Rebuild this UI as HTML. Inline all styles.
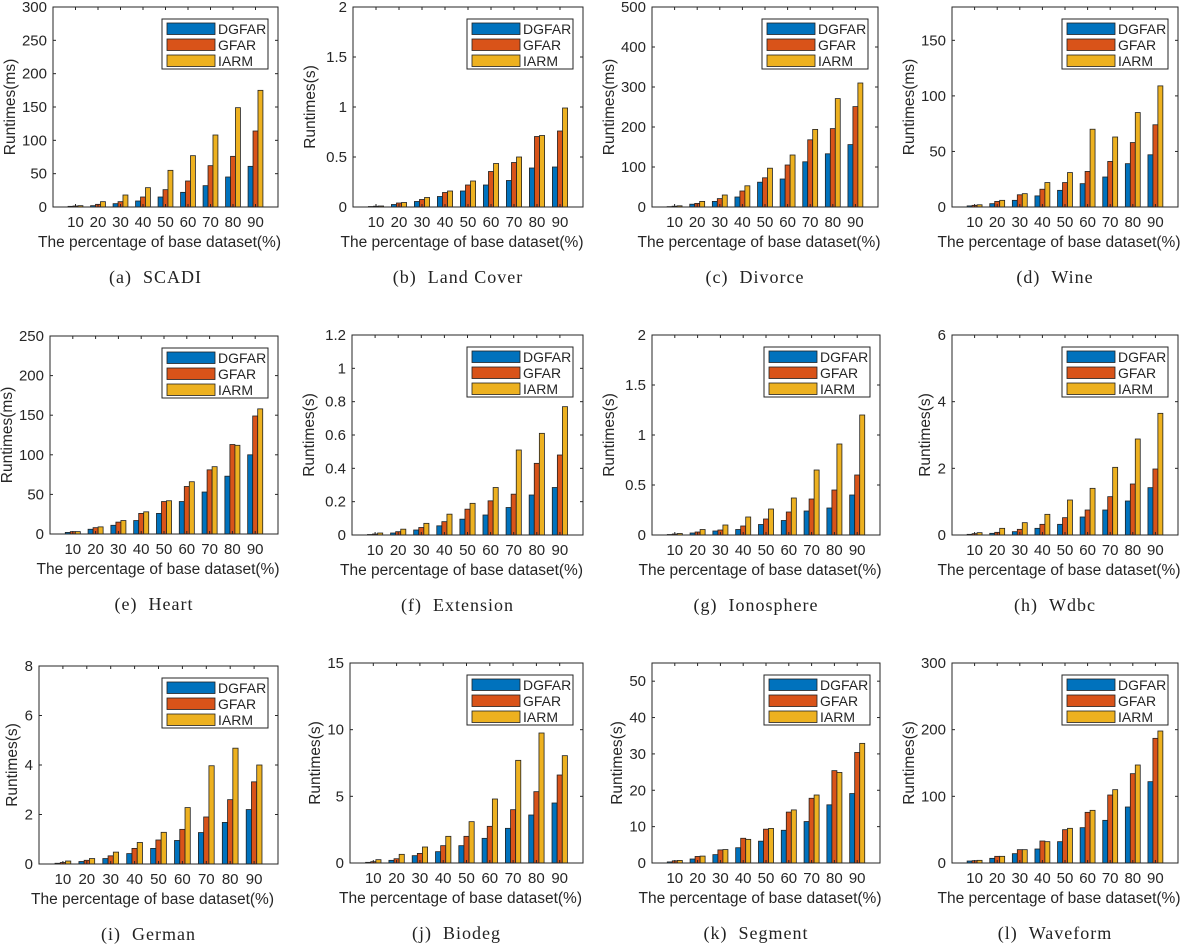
<!DOCTYPE html>
<html><head><meta charset="utf-8"><style>
html,body{margin:0;padding:0;background:#fff;width:1200px;height:947px;overflow:hidden}
svg{display:block}
</style></head><body>
<svg id="fig" width="1200" height="947" viewBox="0 0 1200 947" xmlns="http://www.w3.org/2000/svg"></svg>
<script>
const categories = ["10","20","30","40","50","60","70","80","90"];
const seriesNames = ["DGFAR","GFAR","IARM"];
const panelTitles = ["SCADI","Land Cover","Divorce","Wine","Heart","Extension","Ionosphere","Wdbc","German","Biodeg","Segment","Waveform"];
const panelLetters = ["a","b","c","d","e","f","g","h","i","j","k","l"];
const yLabels = ["Runtimes(ms)","Runtimes(s)","Runtimes(ms)","Runtimes(ms)","Runtimes(ms)","Runtimes(s)","Runtimes(s)","Runtimes(s)","Runtimes(s)","Runtimes(s)","Runtimes(s)","Runtimes(s)"];
const yMax = [300,2,500,180,250,1.2,2,6,8,15,55,300];
const yStep = [50,0.5,100,50,50,0.2,0.5,2,2,5,10,100];
const dgfar = [
 [1,2,5,9,15,22,32,45,61],
 [.005,.025,.055,.105,.16,.22,.265,.39,.40],
 [1,7,14,25,62,70,113,133,156],
 [1,3,6,10,15,21,27,39,47],
 [2,6,11,17,26,41,53,73,100],
 [.003,.012,.03,.055,.095,.12,.165,.24,.285],
 [.005,.02,.04,.055,.105,.145,.24,.27,.40],
 [.02,.05,.1,.2,.32,.54,.75,1.02,1.42],
 [.03,.1,.22,.42,.63,.95,1.27,1.68,2.2],
 [.05,.2,.55,.85,1.3,1.85,2.6,3.6,4.5],
 [.3,1.1,2.3,4.2,6,9,11.4,16,19.1],
 [3,7,14,21,32,53,64,84,122]
];
const gfar = [
 [1.5,4,8,15,26,39,62,76,114],
 [.008,.04,.075,.145,.22,.355,.445,.705,.76],
 [2,9,21,40,73,105,168,196,251],
 [1.5,5,11,16,22,32,41,58,74],
 [3,8,15,26,41,60,81,113,149],
 [.006,.02,.045,.08,.155,.205,.245,.43,.48],
 [.01,.03,.05,.09,.16,.23,.36,.45,.60],
 [.04,.08,.17,.32,.52,.75,1.15,1.53,1.98],
 [.06,.15,.33,.63,.97,1.4,1.9,2.6,3.32],
 [.1,.32,.72,1.3,2.0,2.75,4.0,5.35,6.6],
 [.6,1.8,3.6,6.8,9.3,14,17.8,25.4,30.4],
 [3.5,10,20,33,50,76,102,134,187]
];
const iarm = [
 [2,8,18,29,55,77,108,149,175],
 [.01,.045,.095,.16,.26,.435,.50,.715,.99],
 [3,14,30,53,97,130,194,271,310],
 [2,6,12,22,31,70,63,85,109],
 [3,9,17,28,42,66,85,112,158],
 [.012,.035,.07,.125,.19,.285,.51,.61,.77],
 [.015,.055,.10,.18,.26,.37,.65,.91,1.2],
 [.07,.2,.37,.62,1.05,1.4,2.03,2.88,3.65],
 [.12,.22,.48,.87,1.28,2.28,3.97,4.68,4.0],
 [.25,.65,1.2,2.0,3.1,4.8,7.7,9.75,8.05],
 [.7,1.9,3.7,6.5,9.5,14.6,18.7,24.9,32.9],
 [4,10,20,32,52,79,110,147,198]
];
const colors = ["#0072BD","#D95319","#EDB120"];
const layout = [
 [53,278,7,207],[353,583,7,207],[652,878,7,207],[952,1178,7,207],
 [50,278,336,534],[352,583,335,535],[652,880,335,535],[952,1178,335,535],
 [39,278,666,864],[350,583,663,863],[652,880,663,863],[952,1178,663,863]
];
const NS="http://www.w3.org/2000/svg";
const svg=document.getElementById('fig');
function mk(tag,attrs,parent){const e=document.createElementNS(NS,tag);for(const k in attrs)e.setAttribute(k,attrs[k]);(parent||svg).appendChild(e);return e;}
function fmt(v){return String(Math.round(v*1000)/1000);}
const F='"Liberation Sans", Arial, sans-serif';
for(let p=0;p<12;p++){
  const [L,R,T,B]=layout[p];
  const g=mk('g',{});
  
  
  const xs=v=>L+(v/10)*(R-L);
  const ys=v=>B-(v/yMax[p])*(B-T);
  const unit=(R-L)/10;
  const bw=unit*0.22;
  const all=[dgfar[p],gfar[p],iarm[p]];
  for(let s=0;s<3;s++){
    for(let i=0;i<categories.length;i++){
      const cx=xs(i+1)+(s-1)*bw;
      const y=ys(all[s][i]);
      const r=mk('rect',{x:cx-bw/2,y:y,width:bw,height:Math.max(0,B-y),fill:colors[s],stroke:'#222','stroke-width':0.8},g);
      
      
    }
  }
  const box=mk('rect',{x:L,y:T,width:R-L,height:B-T,fill:'none',stroke:'#262626','stroke-width':1},g);
  
  
  for(let i=0;i<categories.length;i++){
    const x=xs(i+1);
    mk('line',{x1:x,y1:B,x2:x,y2:B-3,stroke:'#262626'},g);
    mk('line',{x1:x,y1:T,x2:x,y2:T+3,stroke:'#262626'},g);
    const t=mk('text',{x:x,y:B+20,'text-anchor':'middle','font-family':F,'font-size':15,fill:'#262626'},g);
    t.textContent=categories[i];
    
    
  }
  let maxw=0;
  for(let v=0;v<=yMax[p]+1e-9;v+=yStep[p]){
    const y=ys(v);
    mk('line',{x1:L,y1:y,x2:L+3,y2:y,stroke:'#262626'},g);
    mk('line',{x1:R,y1:y,x2:R-3,y2:y,stroke:'#262626'},g);
    const s=fmt(v);
    maxw=Math.max(maxw,s.length*8);
    const t=mk('text',{x:L-6,y:y+5,'text-anchor':'end','font-family':F,'font-size':15,fill:'#262626'},g);
    t.textContent=s;
    
    
  }
  const yl=Math.max(11,L-maxw-14), ym=(T+B)/2;
  const ylt=mk('text',{x:yl,y:ym,'text-anchor':'middle','font-family':F,'font-size':15.5,fill:'#262626',transform:'rotate(-90 '+yl+' '+ym+')'},g);
  ylt.textContent=yLabels[p];
  
  
  const xlt=mk('text',{x:(L+R)/2-6,y:B+40,'text-anchor':'middle','font-family':F,'font-size':15.5,fill:'#262626'},g);
  xlt.textContent='The percentage of base dataset(%)';
  
  
  const lw=106,lh=50,lx=R-10-lw,ly=T+12;
  const lg=mk('g',{},g);
  
  
  mk('rect',{x:lx,y:ly,width:lw,height:lh,fill:'#fff',stroke:'#262626','stroke-width':1},lg);
  for(let s=0;s<3;s++){
    const ry=ly+4+s*16;
    const sw=mk('rect',{x:lx+5,y:ry,width:48,height:11.5,fill:colors[s],stroke:'#222','stroke-width':0.8},lg);
    
    
    const t=mk('text',{x:lx+56,y:ry+11,'font-family':F,'font-size':14,fill:'#262626'},lg);
    t.textContent=seriesNames[s];
    
    
  }
  const cap=mk('text',{x:(L+R)/2-10,y:B+76,'text-anchor':'middle','font-family':'"Liberation Serif", "DejaVu Serif", serif','font-size':18,'letter-spacing':'1px',fill:'#222'},g);
  cap.textContent='('+panelLetters[p]+')\u00a0\u00a0'+panelTitles[p];
  
  
}
</script>
</body></html>
